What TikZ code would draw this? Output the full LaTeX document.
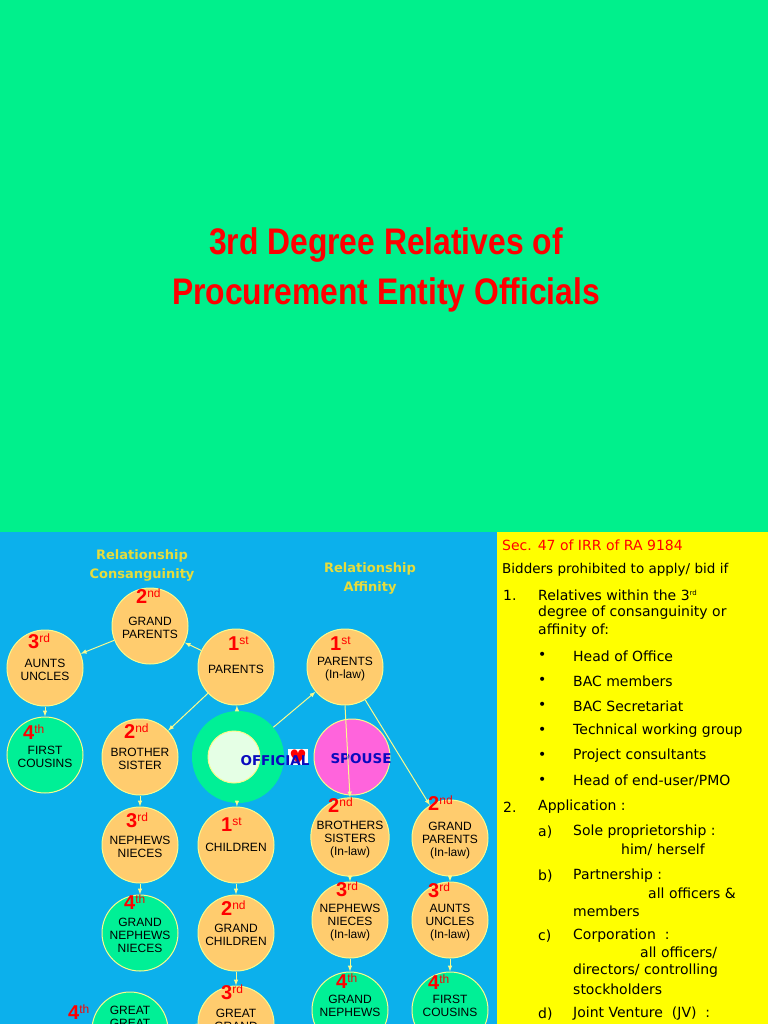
\documentclass[tikz,border=0pt]{standalone}
\usepackage{fontspec}
\setmainfont{Liberation Sans}
\newfontfamily\titlefont[FakeStretch=0.86]{Liberation Sans}
\newfontfamily\verd{DejaVu Sans}
\definecolor{slide}{RGB}{0,240,140}
\definecolor{panel}{RGB}{12,176,236}
\definecolor{note}{RGB}{255,255,0}
\definecolor{tan}{RGB}{255,204,110}
\definecolor{mint}{RGB}{0,240,150}
\definecolor{pink}{RGB}{255,100,220}
\definecolor{rim}{RGB}{250,250,140}
\definecolor{navy}{RGB}{10,10,190}
\definecolor{gold}{RGB}{230,220,60}
\newcommand{\dg}[2]{{\bfseries\fontsize{20}{20}\selectfont #1}\raisebox{6pt}{\fontsize{12}{12}\selectfont #2}}
\begin{document}
\begin{tikzpicture}[x=1pt,y=-1pt]
    \tikzset{kin/.style = {shape=circle,draw=rim,line width=1pt,fill=tan,minimum size=76pt,inner sep=0pt,align=center,font=\fontsize{12}{13}\selectfont}}
    \tikzset{far/.style = {kin,fill=mint}}
    \tikzset{grade/.style = {text=red,inner sep=0pt,anchor=west}}
    \tikzset{link/.style = {draw=rim,line width=1pt,-latex}}
    \tikzset{line/.style = {font=\verd\fontsize{14}{14}\selectfont,anchor=west,inner sep=0pt}}
    % backgrounds
    \fill[slide] (0,0) rectangle (768,1024);
    \fill[panel] (0,532) rectangle (497,1024);
    \fill[note] (497,532) rectangle (768,1024);
    \useasboundingbox (0,0) rectangle (768,1024);
    % title
    \node[text=red,align=center,font=\titlefont\bfseries\fontsize{37}{50}\selectfont] (title) at (386,270) {3rd Degree Relatives of\\Procurement Entity Officials};
    % headings
    \node[text=gold,align=center,font=\verd\bfseries\fontsize{13}{19}\selectfont] (hcon) at (142,565) {Relationship\\Consanguinity};
    \node[text=gold,align=center,font=\verd\bfseries\fontsize{13}{19}\selectfont] (haff) at (370,578) {Relationship\\Affinity};
    % official and spouse
    \node[circle,fill=mint,minimum size=92pt] (off) at (238,757) {};
    \node[circle,fill=green!10,draw=rim,line width=1pt,minimum size=52pt] (offin) at (234,757) {};
    \node[kin,fill=pink] (sp) at (352,757) {};
    % consanguinity
    \node[kin] (gp) at (150,626) {\\GRAND\\PARENTS};
    \node[kin] (au) at (45,668) {\\AUNTS\\UNCLES};
    \node[kin] (pa) at (236,667) {\\PARENTS};
    \node[far] (fc) at (45,755) {\\FIRST\\COUSINS};
    \node[kin] (bs) at (140,757) {\\BROTHER\\SISTER};
    \node[kin] (nn) at (140,845) {\\NEPHEWS\\NIECES};
    \node[kin] (ch) at (236,845) {\\CHILDREN};
    \node[far] (gn) at (140,933) {\\GRAND\\NEPHEWS\\NIECES};
    \node[kin] (gc) at (236,933) {\\GRAND\\CHILDREN};
    \node[far] (gg) at (130,1030) {GREAT\\GREAT\\\\};
    \node[kin] (gg2) at (236,1024) {\\GREAT\\GRAND\\};
    % affinity
    \node[kin] (pi) at (345,667) {\\PARENTS\\(In-law)};
    \node[kin] (bi) at (350,837) {\\BROTHERS\\SISTERS\\(In-law)};
    \node[kin] (gi) at (450,838) {\\GRAND\\PARENTS\\(In-law)};
    \node[kin] (ni) at (350,920) {\\NEPHEWS\\NIECES\\(In-law)};
    \node[kin] (ai) at (450,920) {\\AUNTS\\UNCLES\\(In-law)};
    \node[far] (fi) at (350,1010) {\\GRAND\\NEPHEWS\\};
    \node[far] (ci) at (450,1010) {\\FIRST\\COUSINS\\};
    % names on the middle row
    \node[fill=white,inner sep=1pt,text=red,font=\verd\fontsize{20}{20}\selectfont] (heart) at (298,757) {♥};
    \node[text=navy,font=\verd\bfseries\fontsize{13.5}{14}\selectfont] (offname) at (275,761) {OFFICIAL};
    \node[text=navy,font=\verd\bfseries\fontsize{13.5}{14}\selectfont] (spname) at (361,759) {SPOUSE};
    % degrees
    \node[grade] at (136,596) {\dg{2}{nd}};
    \node[grade] at (28,641) {\dg{3}{rd}};
    \node[grade] at (228,644) {\dg{1}{st}};
    \node[grade] at (330,644) {\dg{1}{st}};
    \node[grade] at (23,732) {\dg{4}{th}};
    \node[grade] at (124,731) {\dg{2}{nd}};
    \node[grade] at (126,820) {\dg{3}{rd}};
    \node[grade] at (221,825) {\dg{1}{st}};
    \node[grade] at (328,805) {\dg{2}{nd}};
    \node[grade] at (428,803) {\dg{2}{nd}};
    \node[grade] at (124,902) {\dg{4}{th}};
    \node[grade] at (221,908) {\dg{2}{nd}};
    \node[grade] at (336,889) {\dg{3}{rd}};
    \node[grade] at (428,890) {\dg{3}{rd}};
    \node[grade] at (68,1012) {\dg{4}{th}};
    \node[grade] at (221,992) {\dg{3}{rd}};
    \node[grade] at (336,981) {\dg{4}{th}};
    \node[grade] at (428,982) {\dg{4}{th}};
    % arrows
    \draw[link] (pa) -- (gp);
    \draw[link] (gp) -- (au);
    \draw[link] (au) -- (fc);
    \draw[link] (pa) -- (bs);
    \draw[link] (off) -- (pa);
    \draw[link] (off) -- (pi);
    \draw[link] (bs) -- (nn);
    \draw[link] (nn) -- (gn);
    \draw[link] (off) -- (ch);
    \draw[link] (ch) -- (gc);
    \draw[link] (gc) -- (gg2);
    \draw[link] (gg2.west) -- (gg.east);
    \draw[link] (pi.south) -- (bi.north);
    \draw[link] (pi) -- (gi);
    \draw[link] (bi) -- (ni);
    \draw[link] (ni) -- (fi);
    \draw[link] (gi) -- (ai);
    \draw[link] (ai) -- (ci);
    % rule panel
    \node[line,text=red] (r0) at (502,545) {Sec. 47 of IRR of RA 9184};
    \node[line,font=\verd\fontsize{13.5}{14}\selectfont] (r1) at (502,570) {Bidders prohibited to apply/ bid if};
    \node[line] (r2) at (503,595) {1.};
    \node[line] (r3) at (538,595) {Relatives within the 3\raisebox{5pt}{\fontsize{7}{7}\selectfont rd}};
    \node[line] (r4) at (538,613) {degree of consanguinity or};
    \node[line] (r5) at (538,631) {affinity of:};
    \foreach \y/\t [count=\i] in {656/{Head of Office}, 681/{BAC members}, 706/{BAC Secretariat}, 731/{Technical working group}, 756/{Project consultants}, 781/{Head of end-user/PMO}} {
        \node[line] (b\i) at (538,\y) {•};
        \node[line] (t\i) at (573,\y) {\t};
    }
    \node[line] (r6) at (503,807) {2.};
    \node[line] (r7) at (538,807) {Application :};
    \node[line] (ra) at (538,832) {a)};
    \node[line] (ra1) at (573,832) {Sole proprietorship :};
    \node[line] (ra2) at (621,850) {him/ herself};
    \node[line] (rb) at (538,876) {b)};
    \node[line] (rb1) at (573,876) {Partnership :};
    \node[line] (rb2) at (648,893) {all officers \&};
    \node[line] (rb3) at (573,911) {members};
    \node[line] (rc) at (538,936) {c)};
    \node[line] (rc1) at (573,936) {Corporation \ :};
    \node[line] (rc2) at (640,953) {all officers/};
    \node[line] (rc3) at (573,971) {directors/ controlling};
    \node[line] (rc4) at (573,989) {stockholders};
    \node[line] (rd) at (538,1014) {d)};
    \node[line] (rd1) at (573,1014) {Joint Venture \ (JV) \ :};
\end{tikzpicture}
\end{document}
